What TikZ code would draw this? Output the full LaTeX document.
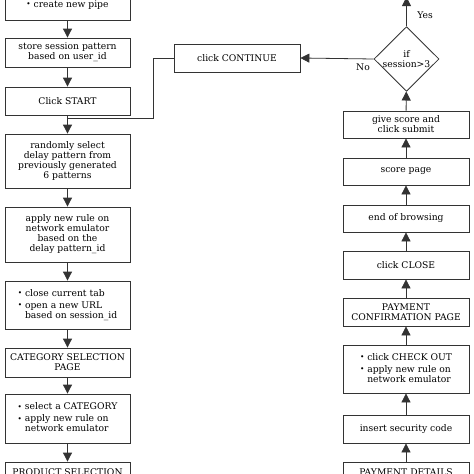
\documentclass[tikz,border=0pt]{standalone}
\usepackage{fontspec}
\setmainfont{DejaVu Serif}
\usetikzlibrary{arrows.meta,shapes.geometric}
\newcommand{\bul}{\raisebox{0.5pt}{\scalebox{0.8}{\textbullet}}}
\newenvironment{bullets}{\begin{tabular}{@{}l@{\ }l@{}}}{\end{tabular}}
\begin{document}
\begin{tikzpicture}[x=1pt,y=-1pt,
    box/.style={draw=black!80,line width=0.8pt,minimum width=125pt,inner sep=1pt,
        align=center,font=\fontsize{9.2}{10}\selectfont},
    choice/.style={draw=black!80,line width=0.8pt,diamond,aspect=1,inner sep=0pt,
        minimum width=65pt,minimum height=64pt,align=center,font=\fontsize{9.2}{10}\selectfont},
    flow/.style={draw=black!80,line width=0.8pt,-{Triangle[width=9pt,length=9pt]}},
    link/.style={draw=black!80,line width=0.8pt}]

    \useasboundingbox (0,0) rectangle (474,474);
    \clip (0,0) rectangle (474,474);

    % left column: setting up a session
    \node[box,minimum height=30pt] (pipe) at (67.5,5) {\begin{bullets}\bul & create new pipe\end{bullets}};
    \node[box,minimum height=29pt] (store) at (67.5,52.5) {store session pattern\\based on user\_id};
    \node[box,minimum height=28pt] (start) at (67.5,101) {Click START};
    \node[box,minimum height=54pt] (random) at (67.5,161) {randomly select\\delay pattern from\\previously generated\\6 patterns};
    \node[box,minimum height=55pt] (rule) at (67.5,234.5) {apply new rule on\\network emulator\\based on the\\delay pattern\_id};
    \node[box,minimum height=48pt] (tab) at (67.5,305) {\begin{bullets}\bul & close current tab\\[2pt] \bul & open a new URL\\ & based on session\_id\end{bullets}};
    \node[box,minimum height=29pt] (catpage) at (67.5,362.5) {CATEGORY SELECTION\\PAGE};
    \node[box,minimum height=49pt] (category) at (67.5,418.5) {\begin{bullets}\bul & select a CATEGORY\\[2pt] \bul & apply new rule on\\ & network emulator\end{bullets}};
    \node[box,minimum height=30pt] (product) at (67.5,477) {PRODUCT SELECTION\\PAGE};

    \draw[flow] (pipe) -- (store);
    \draw[flow] (store) -- (start);
    \draw[flow] (start) -- (random);
    \draw[flow] (random) -- (rule);
    \draw[flow] (rule) -- (tab);
    \draw[flow] (tab) -- (catpage);
    \draw[flow] (catpage) -- (category);
    \draw[flow] (category) -- (product);

    % right column: payment and scoring
    \node[box,minimum width=126pt,minimum height=30pt] (details) at (406,477) {PAYMENT DETAILS\\PAGE};
    \node[box,minimum width=126pt,minimum height=28pt] (security) at (406,429) {insert security code};
    \node[box,minimum width=126pt,minimum height=48pt] (checkout) at (406,369) {\begin{bullets}\bul & click CHECK OUT\\[2pt] \bul & apply new rule on\\ & network emulator\end{bullets}};
    \node[box,minimum width=126pt,minimum height=28pt] (confirm) at (406,312) {PAYMENT\\CONFIRMATION PAGE};
    \node[box,minimum width=126pt,minimum height=28pt] (close) at (406,265) {click CLOSE};
    \node[box,minimum width=126pt,minimum height=27pt] (endbrowse) at (406,218.5) {end of browsing};
    \node[box,minimum width=126pt,minimum height=27pt] (scorepage) at (406,171.5) {score page};
    \node[box,minimum width=126pt,minimum height=27pt] (score) at (406,124.5) {give score and\\click submit};
    \node[choice] (check) at (406.5,59) {if\\session>3};
    \node[box,minimum width=126pt,minimum height=28pt] (continue) at (237,58) {click CONTINUE};
    \coordinate (finish) at (406.5,-3);
    \coordinate (bend) at (153,58);
    \coordinate (join) at (153,118);
    \coordinate (merge) at (67.5,118);

    \draw[flow] (details) -- (security);
    \draw[flow] (security) -- (checkout);
    \draw[flow] (checkout) -- (confirm);
    \draw[flow] (confirm) -- (close);
    \draw[flow] (close) -- (endbrowse);
    \draw[flow] (endbrowse) -- (scorepage);
    \draw[flow] (scorepage) -- (score);
    \draw[flow] (score) -- (check);
    \draw[flow] (check.north) -- (finish);
    \draw[flow] (check.west) -- (continue.east);
    \draw[link] (continue.west) -- (bend) -- (join) -- (merge);

    % labels
    \node[font=\fontsize{9.2}{10}\selectfont] (yes) at (425,15) {Yes};
    \node[font=\fontsize{9.2}{10}\selectfont] (no) at (363,67) {No};

\end{tikzpicture}
\end{document}
